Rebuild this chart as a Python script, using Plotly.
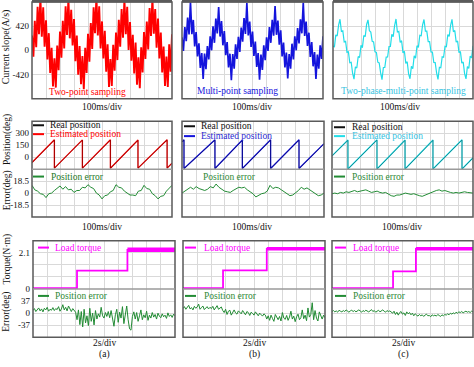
import plotly.graph_objects as go

W, H = 474, 367
FONT = "Liberation Serif"
GRID = "#d9d9d9"
FRAME = "#5a5a5a"
DIVIDER = "#9a9a9a"
RED, BLUE, CYAN = "#ff0000", "#1414dc", "#22dde8"
CYAN_TXT = "#35c3df"
GREEN, MAGENTA = "#228b34", "#ff00ff"

# ---------------- data ----------------
t_ms_101 = [i * 10 for i in range(101)]          # 0..1000 ms  (100 ms/div)
t_ms_51 = [i * 20 for i in range(51)]
t_s_101 = [round(i * 0.2, 1) for i in range(101)]  # 0..20 s  (2 s/div)

slope_two_point = [
    258, -110, 512, 54, 756, 278, 920, 238, 746, 64, 522, -160, 298, -394, 44, -628, -140, -648, 84, -344,
    328, -130, 512, 34, 766, 268, 900, 208, 706, 84, 542, -190, 258, -424, 74, -588, -100, -678, 44, -394,
    288, -200, 472, 24, 746, 298, 930, 258, 766, 34, 502, -140, 338, -374, 104, -638, -150, -618, 94, -354,
    308, -170, 532, 64, 716, 218, 890, 278, 756, 4, 492, -180, 268, -404, 134, -598, -120, -658, 54, -384,
    318, -150, 502, 14, 736, 248, 910, 288, 716, 44, 552, -140, 308, -384, 64, -618, -110, -638, 104, -374,
    278]
slope_multi_point = [
    225, -10, 405, 160, 570, 275, 840, 279, 528, 67, 316, -106, 123, -308, -49, -500, -55, -330, 75, -160,
    245, 0, 415, 130, 550, 295, 750, 239, 508, 87, 336, -86, 143, -298, -59, -520, -65, -320, 105, -150,
    235, -30, 395, 150, 560, 285, 820, 259, 498, 57, 326, -96, 153, -288, -49, -510, -75, -340, 85, -170,
    225, -10, 405, 130, 530, 255, 770, 269, 518, 97, 346, -106, 133, -298, -39, -490, -65, -320, 115, -160,
    245, 0, 385, 120, 540, 295, 830, 249, 498, 77, 306, -116, 143, -278, -29, -500, -75, -320, 85, -150,
    245]
slope_two_phase = [
    75, 56, 267, 248, 439, 540, 329, 338, 147, 156, -35, -26, -217, -208, -399, -500, -289, -308, -107, -126,
    85, 46, 257, 238, 449, 530, 339, 318, 157, 146, -25, -36, -207, -218, -389, -510, -299, -298, -117, -116,
    65, 66, 277, 238, 429, 545, 319, 328, 137, 166, -45, -16, -227, -198, -409, -495, -279, -318, -97, -136,
    80, 51, 262, 253, 444, 535, 334, 333, 152, 151, -30, -31, -212, -213, -394, -505, -294, -303, -112, -121,
    70, 61, 272, 243, 434, 538, 324, 343, 142, 161, -40, -21, -222, -203, -404, -498, -284, -313, -102, -131,
    78]

pos_a_t = [0, 160, 160, 360, 360, 560, 560, 757, 757, 965, 965, 1000]
pos_a_real = [-70, 215, -140, 215, -140, 215, -140, 212, -140, 218, -140, -78]
pos_a_est = [-66, 218, -137, 217, -137, 218, -138, 215, -137, 220, -137, -74]
pos_b_t = [0, 14, 14, 232, 232, 425, 425, 624, 624, 824, 824, 1000]
pos_b_real = [190, 215, -145, 215, -145, 212, -145, 215, -145, 215, -145, 167]
pos_b_est = [193, 218, -142, 218, -142, 215, -142, 218, -142, 218, -142, 170]
pos_c_t = [0, 113, 113, 319, 319, 518, 518, 716, 716, 922, 922, 1000]
pos_c_real = [14, 212, -150, 215, -150, 212, -150, 212, -150, 215, -150, -10]
pos_c_est = [17, 215, -147, 218, -147, 215, -147, 215, -147, 218, -147, -7]

err100_a = [12, 5, 3, -1, -2, -7, -1, 0, 4, 8, 11, 6, 10, 5, 6, 1, 4, 4, 9, 8, 13, 9, 7, 0, -3, -9,
            -4, -3, 2, 4, 13, 9, 8, 3, 0, -3, -3, -4, 3, 4, 12, 7, 6, -1, -4, -9, -5, -4, 3, 7, 12]
err100_b = [0, 3, 6, 9, 6, 10, 7, 5, 4, 6, 10, 8, 14, 9, 6, 3, 2, 1, 4, 6, 9, 8, 9, 5, 2, -1,
            -6, -3, -1, 0, 3, 12, 7, 9, 8, 5, 2, -2, -4, -3, 0, 4, 9, 6, 8, 5, 1, -1, -4, -3, 0]
err100_c = [-1, 0, -1, 1, 0, 2, 1, 3, 4, 2, 3, 4, 5, 3, 1, 2, 3, 1, 0, 1, -2, -4, -5, -3, -3, -1,
            0, -1, -2, -1, -3, -4, -5, -3, -1, 1, 2, 4, 5, 3, 4, 2, 1, 0, 1, 0, 1, 2, 1, 1, 0]

torque_a_s = [0, 6.2, 6.2, 13.3, 13.3, 20]
torque_a = [0.05, 0.05, 1.06, 1.06, 2.27, 2.27]
torque_b_s = [0, 5.64, 5.64, 11.8, 11.8, 20]
torque_b = [0.05, 0.05, 1.08, 1.08, 2.33, 2.33]
torque_c_s = [0, 8.66, 8.66, 11.9, 11.9, 20]
torque_c = [0.05, 0.05, 1.02, 1.02, 2.33, 2.33]

err2s_a = [8, 14, 5, 12, 16, 7, 13, 4, 15, 10, 18, 6, 12, 9, 17, 8, 14, 11, 20, 6, 13, 26, 10, 18, 7,
           22, 12, 5, 14, 9, 3,
           -20, 10, -35, 5, -42, 12, -30, -8, -38, 15, -25, 0, -36, 8, -18,
           -2, -12, 18, -8, -15, 2, -10, 5, -14,
           8, -22, -40, -5, 12, -28, 3, -15, 20, -32, -8,
           22, -20, -48, -52, -10, 4,
           -18, 2, -25, -8, 10, -20, -5, -14, 6, -22,
           -6, -15, 2, -12, -4, -18, 0, -9, -14, -2, -11, -6, -16, 1, -10, -5, -13, -3, -8]
err2s_b = [14, 20, 12, 18, 24, 13, 17, 10, 21, 15, 19, 28, 12, 17, 22, 11, 16, 20, 13, 18, 14, 21, 10,
           17, 23, 12, 15, 19,
           8, 2, 12, -4, 6, 9, -6, 4, 10, 1, -3, 7, 3, -2, 8, 0, -5, 5, 2, -7, 3, -1, -6, 4, -3, -8,
           0, -5, -9, -2, -6,
           -18, -8, -22, -6, -16, -25, -4, -14, -20, -10, -24, 2, -15, -19, -7, -22, -12, 6, -18, -9,
           -26, -11, -3, -20, -14, 10, -17, -6, -23, 16, -12, -4, 32, -20, 8, -15, -24, 4, -10, -18, -6, -14]
err2s_c = [5, 8, 4, 7, 3, 9, 6, 4, 8, 5, 10, 6, 3, 7, 9, 5, 8, 4, 6, 10, 7, 3, 8, 5, 9, 6, 4, 7, 11,
           5, 8, 3, 6, 9, 4, 7, 10, 6, 3, 8, 5, 7, 4,
           0, 6, -4, 3, -6, 2, 5, -3, 1, -7, 4, -2, 2, -5, 0, -8, -2,
           -6, -9, -4, -8, -5, -10, -6, -3, -8, -7, -11, -5, -8, -6, -9, -4, -7, -10, -5, -8,
           -4, -6, -2, -5, 0, -3, 1, -2, 3, 0, 4, 2, 5, 1, 4, 6, 3, 5, 2, 6, 4]

# ---------------- layout helpers ----------------
layout_axes = {}


def add_axes(n, x0, x1, y0, y1, xrange, xdtick, yrange, yvals, ytext, labels=True):
    key = "" if n == 1 else str(n)
    layout_axes["xaxis" + key] = dict(
        domain=[x0 / W, x1 / W], range=xrange, anchor="y" + key, tick0=0, dtick=xdtick,
        showgrid=True, gridcolor=GRID, gridwidth=1, showticklabels=False, ticks="",
        zeroline=False, showline=False, fixedrange=True)
    layout_axes["yaxis" + key] = dict(
        domain=[1 - y1 / H, 1 - y0 / H], range=yrange, anchor="x" + key, tickmode="array",
        tickvals=yvals, ticktext=ytext, showgrid=True, gridcolor=GRID, gridwidth=1,
        zeroline=False, showline=False, ticks="", ticklabelstandoff=2, showticklabels=labels,
        tickfont=dict(family=FONT, size=9, color="#111"), fixedrange=True)
    return "x" + key, "y" + key


fig = go.Figure()
shapes, annotations = [], []


def frame(x0, y0, x1, y1):
    shapes.append(dict(type="rect", xref="paper", yref="paper", x0=x0 / W, x1=x1 / W,
                       y0=1 - y1 / H, y1=1 - y0 / H, line=dict(color=FRAME, width=1.5)))


def hline(x0, x1, y, color=DIVIDER, width=1.5):
    shapes.append(dict(type="line", xref="paper", yref="paper", x0=x0 / W, x1=x1 / W,
                       y0=1 - y / H, y1=1 - y / H, line=dict(color=color, width=width)))


def text(x, y, s, color="#111", size=9.5, xanchor="left", angle=0):
    annotations.append(dict(x=x / W, y=1 - y / H, xref="paper", yref="paper", text=s,
                            showarrow=False, xanchor=xanchor, yanchor="middle",
                            textangle=angle, font=dict(family=FONT, size=size, color=color)))


def legend_item(x_line, x_text, y, s, line_color, text_color, show_line=True):
    if show_line:
        hline(x_line, x_line + 11, y, color=line_color, width=2)
    text(x_text, y, s, text_color)


def line(xa, ya, x, y, color, width=1.0, opacity=1.0):
    fig.add_trace(go.Scatter(x=x, y=y, xaxis=xa, yaxis=ya, mode="lines", opacity=opacity,
                             line=dict(color=color, width=width), hoverinfo="skip",
                             showlegend=False))


# ---------------- row 1 : current slope ----------------
row1_cols = [(32, 172), (182, 323), (333, 473)]
row1_y = (2, 100)
slope_series = [(slope_two_point, RED, 1.9), (slope_multi_point, BLUE, 1.7), (slope_two_phase, CYAN, 1.2)]
n = 1
for ci, ((x0, x1), (vals, col, wd)) in enumerate(zip(row1_cols, slope_series)):
    xa, ya = add_axes(n, x0, x1, row1_y[0], row1_y[1], [0, 1000], 100, [-840, 840],
                      [-840, -420, 0, 420, 840], ["", "-420", "0", "420", ""], ci == 0)
    line(xa, ya, t_ms_101, vals, col, wd)
    frame(x0, row1_y[0], x1, row1_y[1])
    hline(x0, x1, 1.2, color=FRAME, width=2.5)
    n += 1

# ---------------- row 2 : position / error ----------------
row2_cols = [(32, 172), (182, 324), (332, 473)]
row2_top, row2_mid, row2_bot = 123, 171.5, 220
pos_series = [(pos_a_t, pos_a_real, pos_a_est, RED), (pos_b_t, pos_b_real, pos_b_est, BLUE),
              (pos_c_t, pos_c_real, pos_c_est, CYAN)]
err1_series = [err100_a, err100_b, err100_c]
for ci, ((x0, x1), (pt, preal, pest, col), ev) in enumerate(zip(row2_cols, pos_series, err1_series)):
    xa, ya = add_axes(n, x0, x1, row2_top, row2_mid, [0, 1000], 100, [-150, 450],
                      [-150, 0, 150, 300, 450], ["", "0", "150", "300", ""], ci == 0)
    line(xa, ya, pt, pest, col, 1.3)
    line(xa, ya, pt, preal, "#000000", 0.8, 0.45)
    n += 1
    xa, ya = add_axes(n, x0, x1, row2_mid, row2_bot, [0, 1000], 100, [-37, 37],
                      [-37, -18.5, 0, 18.5, 37], ["", "-18.5", "0", "18.5", ""], ci == 0)
    line(xa, ya, t_ms_51, ev, GREEN, 1.0)
    n += 1
    frame(x0, row2_top, x1, row2_bot)
    hline(x0, x1, row2_mid)

# ---------------- row 3 : torque / error ----------------
row3_cols = [(33, 175), (183, 325), (332, 473)]
row3_top, row3_mid, row3_bot = 244, 293, 342
torque_series = [(torque_a_s, torque_a, 4.5), (torque_b_s, torque_b, 3.5), (torque_c_s, torque_c, 3.5)]
err2_series = [err2s_a, err2s_b, err2s_c]
for ci, ((x0, x1), (ts, tv, thick), ev) in enumerate(zip(row3_cols, torque_series, err2_series)):
    xa, ya = add_axes(n, x0, x1, row3_top, row3_mid, [0, 20], 2, [0, 2.8],
                      [0, 0.7, 1.4, 2.1, 2.8], ["0", "", "", "2.1", ""], ci == 0)
    line(xa, ya, ts, tv, MAGENTA, 1.8)
    line(xa, ya, ts[-2:], tv[-2:], MAGENTA, thick)
    n += 1
    xa, ya = add_axes(n, x0, x1, row3_mid, row3_bot, [0, 20], 2, [-74, 74],
                      [-74, -37, 0, 37, 74], ["", "-37", "0", "37", ""], ci == 0)
    line(xa, ya, t_s_101, ev, GREEN, 1.0)
    n += 1
    frame(x0, row3_top, x1, row3_bot)
    hline(x0, x1, row3_mid)

# ---------------- texts ----------------
text(47, 93, "Two-point sampling", RED, 9.5)
text(195, 92, "Multi-point sampling", BLUE, 9.5)
text(339, 92, "Two-phase-multi-point sampling", CYAN_TXT, 9.5)

for cx in (102, 252, 400):
    text(cx, 108, "100ms/div", "#111", 9.5, "center")
for cx in (102, 252, 402):
    text(cx, 230, "100ms/div", "#111", 9.5, "center")
for cx, lab in zip((104, 254, 403), ("(a)", "(b)", "(c)")):
    text(cx, 348, "2s/div", "#111", 9.5, "center")
    text(cx, 359, lab, "#111", 9.5, "center")

# y titles
text(6, 48, "Current slope(A/s)", "#111", 10, "center", -90)
text(7, 142, "Position(deg)", "#111", 9.5, "center", -90)
text(7, 193, "Error(deg)", "#111", 9.5, "center", -90)
text(7, 263, "Torque(N·m)", "#111", 9.5, "center", -90)
text(7, 316, "Error(deg)", "#111", 9.5, "center", -90)

# legends, row 2
legend_item(33, 48, 127, "Real position", "#111", "#111")
legend_item(33, 48, 136, "Estimated position", RED, RED)
legend_item(33, 49, 179, "Position error", GREEN, "#1e7a28")
legend_item(184, 199, 128, "Real position", "#111", "#111")
legend_item(184, 199, 138, "Estimated position", BLUE, "#2a2ad0")
legend_item(184, 201, 179, "Position error", GREEN, "#2e8a38", show_line=False)
legend_item(334, 350, 129, "Real position", "#111", "#111")
legend_item(334, 350, 138, "Estimated position", CYAN, CYAN_TXT)
legend_item(334, 350, 179, "Position error", GREEN, "#2e8a38")
# legends, row 3
for xl, xt in ((38, 53), (185, 202), (335, 351)):
    legend_item(xl, xt, 251, "Load torque", MAGENTA, MAGENTA)
    legend_item(xl, xt, 300, "Position error", GREEN, "#2e8a38")

fig.update_layout(
    width=W, height=H, margin=dict(l=0, r=0, t=0, b=0),
    paper_bgcolor="white", plot_bgcolor="white", showlegend=False,
    shapes=shapes, annotations=annotations, **layout_axes)

fig.write_html("out.html", config={"displayModeBar": False},
               post_script="document.body.style.margin='0';document.body.style.overflow='hidden';")
